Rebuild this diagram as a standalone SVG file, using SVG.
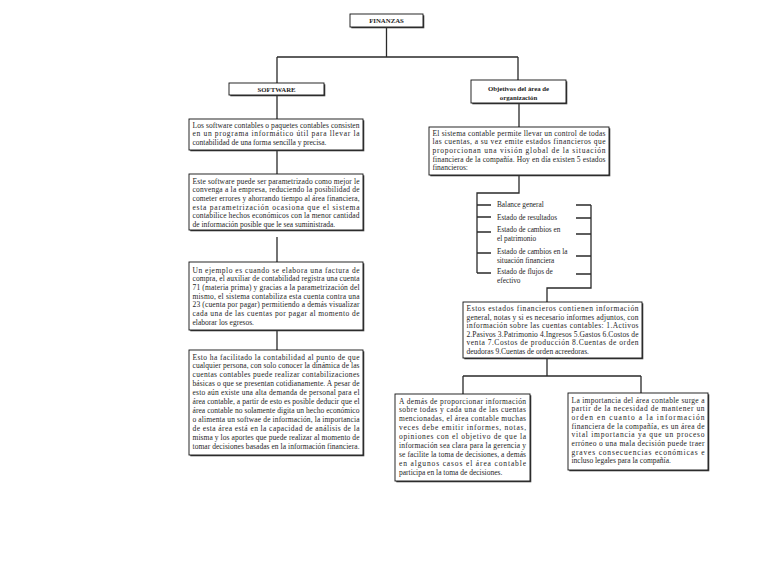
<svg xmlns="http://www.w3.org/2000/svg" width="768" height="576" viewBox="0 0 768 576">
<style>
.bg{fill:#fff}
.sh{fill:#444}
.bx{fill:#fff;stroke:#111;stroke-width:0.9}
.c{fill:none;stroke:#2a2a2a;stroke-width:1.3}
.t{font-family:"Liberation Serif","Times New Roman",serif;font-size:7.5px;fill:#1e1e1e}
.h{font-family:"Liberation Serif","Times New Roman",serif;font-size:6.8px;font-weight:bold;fill:#1e1e1e;text-anchor:middle}
.i{font-family:"Liberation Serif","Times New Roman",serif;font-size:7.3px;fill:#1e1e1e}
</style>
<rect class="bg" x="0" y="0" width="768" height="576"/>
<g id="connectors">
<path class="c" d="M386.5,27 V57 M277,57 H518 M277,57 V83 M518,57 V80"/>
<path class="c" d="M277,95 V119 M277,151 V174 M277,237 V262 M277,331 V350"/>
<path class="c" d="M519,103 V127 M519,176 V193 H477 V273 M477,205 H491 M477,217 H491 M477,232 H491 M477,253 H491 M477,273 H491"/>
<path class="c" d="M576,205 H591 M576,218 H591 M576,234 H591 M576,256 H591 M576,274 H591 M591,205 V288 H547 V302"/>
<path class="c" d="M547,359 V376 M463,376 H641 M463,376 V394 M641,376 V393"/>
</g>
<g id="finanzas">
<rect class="sh" x="351.3" y="15.3" width="73" height="13"/>
<rect class="bx" x="350" y="14" width="73" height="13"/>
<text class="h" x="386.5" y="23">FINANZAS</text>
</g>
<g id="software">
<rect class="sh" x="230.3" y="84.3" width="95" height="12"/>
<rect class="bx" x="229" y="83" width="95" height="12"/>
<text class="h" x="276.5" y="91.5">SOFTWARE</text>
</g>
<g id="objetivos">
<rect class="sh" x="472.3" y="81.3" width="95" height="23"/>
<rect class="bx" x="471" y="80" width="95" height="23"/>
<text class="h" x="518.5" y="90.5">Objetivos del área de</text>
<text class="h" x="518.5" y="99.5">organización</text>
</g>
<g id="sw1">
<rect class="sh" x="190.3" y="120.3" width="174" height="31"/>
<rect class="bx" x="189" y="119" width="174" height="31"/>
<text class="t" x="192.5" y="127.5" textLength="167" lengthAdjust="spacing">Los software contables o paquetes contables consisten</text>
<text class="t" x="192.5" y="136.3" textLength="167" lengthAdjust="spacing">en un programa informático útil para llevar la</text>
<text class="t" x="192.5" y="145">contabilidad de una forma sencilla y precisa.</text>
</g>
<g id="sw2">
<rect class="sh" x="190.3" y="175.3" width="174" height="56"/>
<rect class="bx" x="189" y="174" width="174" height="56"/>
<text class="t" x="192.5" y="183.5" textLength="167" lengthAdjust="spacing">Este software puede ser parametrizado como mejor le</text>
<text class="t" x="192.5" y="192.2" textLength="167" lengthAdjust="spacing">convenga a la empresa, reduciendo la posibilidad de</text>
<text class="t" x="192.5" y="200.9" textLength="167" lengthAdjust="spacing">cometer errores y ahorrando tiempo al área financiera,</text>
<text class="t" x="192.5" y="209.6" textLength="167" lengthAdjust="spacing">esta parametrización ocasiona que el sistema</text>
<text class="t" x="192.5" y="218.3" textLength="167" lengthAdjust="spacing">contabilice hechos económicos con la menor cantidad</text>
<text class="t" x="192.5" y="227">de información posible que le sea suministrada.</text>
</g>
<g id="sw3">
<rect class="sh" x="190.3" y="263.3" width="174" height="68"/>
<rect class="bx" x="189" y="262" width="174" height="68"/>
<text class="t" x="192.5" y="272.5" textLength="167" lengthAdjust="spacing">Un ejemplo es cuando se elabora una factura de</text>
<text class="t" x="192.5" y="281.2" textLength="167" lengthAdjust="spacing">compra, el auxiliar de contabilidad registra una cuenta</text>
<text class="t" x="192.5" y="289.9" textLength="167" lengthAdjust="spacing">71 (materia prima) y gracias a la parametrización del</text>
<text class="t" x="192.5" y="298.6" textLength="167" lengthAdjust="spacing">mismo, el sistema contabiliza esta cuenta contra una</text>
<text class="t" x="192.5" y="307.3" textLength="167" lengthAdjust="spacing">23 (cuenta por pagar) permitiendo a demás visualizar</text>
<text class="t" x="192.5" y="316" textLength="167" lengthAdjust="spacing">cada una de las cuentas por pagar al momento de</text>
<text class="t" x="192.5" y="324.7">elaborar los egresos.</text>
</g>
<g id="sw4">
<rect class="sh" x="190.3" y="351.3" width="174" height="105"/>
<rect class="bx" x="189" y="350" width="174" height="105"/>
<text class="t" x="192.5" y="359.5" textLength="167" lengthAdjust="spacing">Esto ha facilitado la contabilidad al punto de que</text>
<text class="t" x="192.5" y="368.4" textLength="167" lengthAdjust="spacing">cualquier persona, con solo conocer la dinámica de las</text>
<text class="t" x="192.5" y="377.3" textLength="167" lengthAdjust="spacing">cuentas contables puede realizar contabilizaciones</text>
<text class="t" x="192.5" y="386.2" textLength="167" lengthAdjust="spacing">básicas o que se presentan cotidianamente. A pesar de</text>
<text class="t" x="192.5" y="395.1" textLength="167" lengthAdjust="spacing">esto aún existe una alta demanda de personal para el</text>
<text class="t" x="192.5" y="404" textLength="167" lengthAdjust="spacing">área contable, a partir de esto es posible deducir que el</text>
<text class="t" x="192.5" y="412.9" textLength="167" lengthAdjust="spacing">área contable no solamente digita un hecho económico</text>
<text class="t" x="192.5" y="421.8" textLength="167" lengthAdjust="spacing">o alimenta un softwae de información, la importancia</text>
<text class="t" x="192.5" y="430.7" textLength="167" lengthAdjust="spacing">de esta área está en la capacidad de análisis de la</text>
<text class="t" x="192.5" y="439.6" textLength="167" lengthAdjust="spacing">misma y los aportes que puede realizar al momento de</text>
<text class="t" x="192.5" y="448.5" textLength="167" lengthAdjust="spacing">tomar decisiones basadas en la información financiera.</text>
</g>
<g id="sistema">
<rect class="sh" x="430.3" y="128.3" width="180" height="48"/>
<rect class="bx" x="429" y="127" width="180" height="48"/>
<text class="t" x="432.5" y="135.5" textLength="173" lengthAdjust="spacing">El sistema contable permite llevar un control de todas</text>
<text class="t" x="432.5" y="144.2" textLength="173" lengthAdjust="spacing">las cuentas, a su vez emite estados financieros  que</text>
<text class="t" x="432.5" y="152.9" textLength="173" lengthAdjust="spacing">proporcionan una visión global de la situación</text>
<text class="t" x="432.5" y="161.6" textLength="173" lengthAdjust="spacing">financiera de la compañía. Hoy en día existen 5 estados</text>
<text class="t" x="432.5" y="170.3">financieros:</text>
</g>
<g id="estados-lista">
<text class="i" x="497" y="207">Balance general</text>
<text class="i" x="497" y="220">Estado de resultados</text>
<text class="i" x="497" y="231.5">Estado de cambios en</text>
<text class="i" x="497" y="240.5">el patrimonio</text>
<text class="i" x="497" y="253.5">Estado de cambios en la</text>
<text class="i" x="497" y="262.5">situación financiera</text>
<text class="i" x="497" y="273.5">Estado de flujos de</text>
<text class="i" x="497" y="282.5">efectivo</text>
</g>
<g id="estados-info">
<rect class="sh" x="464.3" y="303.3" width="179" height="56"/>
<rect class="bx" x="463" y="302" width="179" height="56"/>
<text class="t" x="466.5" y="311" textLength="172" lengthAdjust="spacing">Estos estados financieros contienen información</text>
<text class="t" x="466.5" y="319.6" textLength="172" lengthAdjust="spacing">general, notas y si es necesario informes adjuntos, con</text>
<text class="t" x="466.5" y="328.2" textLength="172" lengthAdjust="spacing">información sobre las cuentas contables: 1.Activos</text>
<text class="t" x="466.5" y="336.8" textLength="172" lengthAdjust="spacing">2.Pasivos 3.Patrimonio 4.Ingresos 5.Gastos 6.Costos de</text>
<text class="t" x="466.5" y="345.4" textLength="172" lengthAdjust="spacing">venta 7.Costos de producción 8.Cuentas de orden</text>
<text class="t" x="466.5" y="354">deudoras 9.Cuentas de orden acreedoras.</text>
</g>
<g id="ademas">
<rect class="sh" x="396.3" y="395.3" width="135" height="87"/>
<rect class="bx" x="395" y="394" width="135" height="87"/>
<text class="t" x="399" y="403.5" textLength="127" lengthAdjust="spacing">A demás de proporcionar información</text>
<text class="t" x="399" y="412.4" textLength="127" lengthAdjust="spacing">sobre todas y cada una de las cuentas</text>
<text class="t" x="399" y="421.3" textLength="127" lengthAdjust="spacing">mencionadas, el área contable muchas</text>
<text class="t" x="399" y="430.2" textLength="127" lengthAdjust="spacing">veces debe emitir informes, notas,</text>
<text class="t" x="399" y="439.1" textLength="127" lengthAdjust="spacing">opiniones con el objetivo de que la</text>
<text class="t" x="399" y="448" textLength="127" lengthAdjust="spacing">información sea clara para la gerencia y</text>
<text class="t" x="399" y="456.9" textLength="127" lengthAdjust="spacing">se facilite la toma de decisiones, a demás</text>
<text class="t" x="399" y="465.8" textLength="127" lengthAdjust="spacing">en algunos casos el área contable</text>
<text class="t" x="399" y="474.7">participa en la toma de decisiones.</text>
</g>
<g id="importancia">
<rect class="sh" x="569.3" y="394.3" width="140" height="77"/>
<rect class="bx" x="568" y="393" width="140" height="77"/>
<text class="t" x="571.5" y="402.5" textLength="133" lengthAdjust="spacing">La importancia del área contable surge a</text>
<text class="t" x="571.5" y="411.2" textLength="133" lengthAdjust="spacing">partir de la necesidad de mantener un</text>
<text class="t" x="571.5" y="419.9" textLength="133" lengthAdjust="spacing">orden en cuanto a la información</text>
<text class="t" x="571.5" y="428.6" textLength="133" lengthAdjust="spacing">financiera de la compañía, es un área de</text>
<text class="t" x="571.5" y="437.3" textLength="133" lengthAdjust="spacing">vital importancia ya que un proceso</text>
<text class="t" x="571.5" y="446" textLength="133" lengthAdjust="spacing">erróneo o una mala decisión puede traer</text>
<text class="t" x="571.5" y="454.7" textLength="133" lengthAdjust="spacing">graves consecuencias económicas e</text>
<text class="t" x="571.5" y="463.4">incluso legales para la compañía.</text>
</g>
</svg>
